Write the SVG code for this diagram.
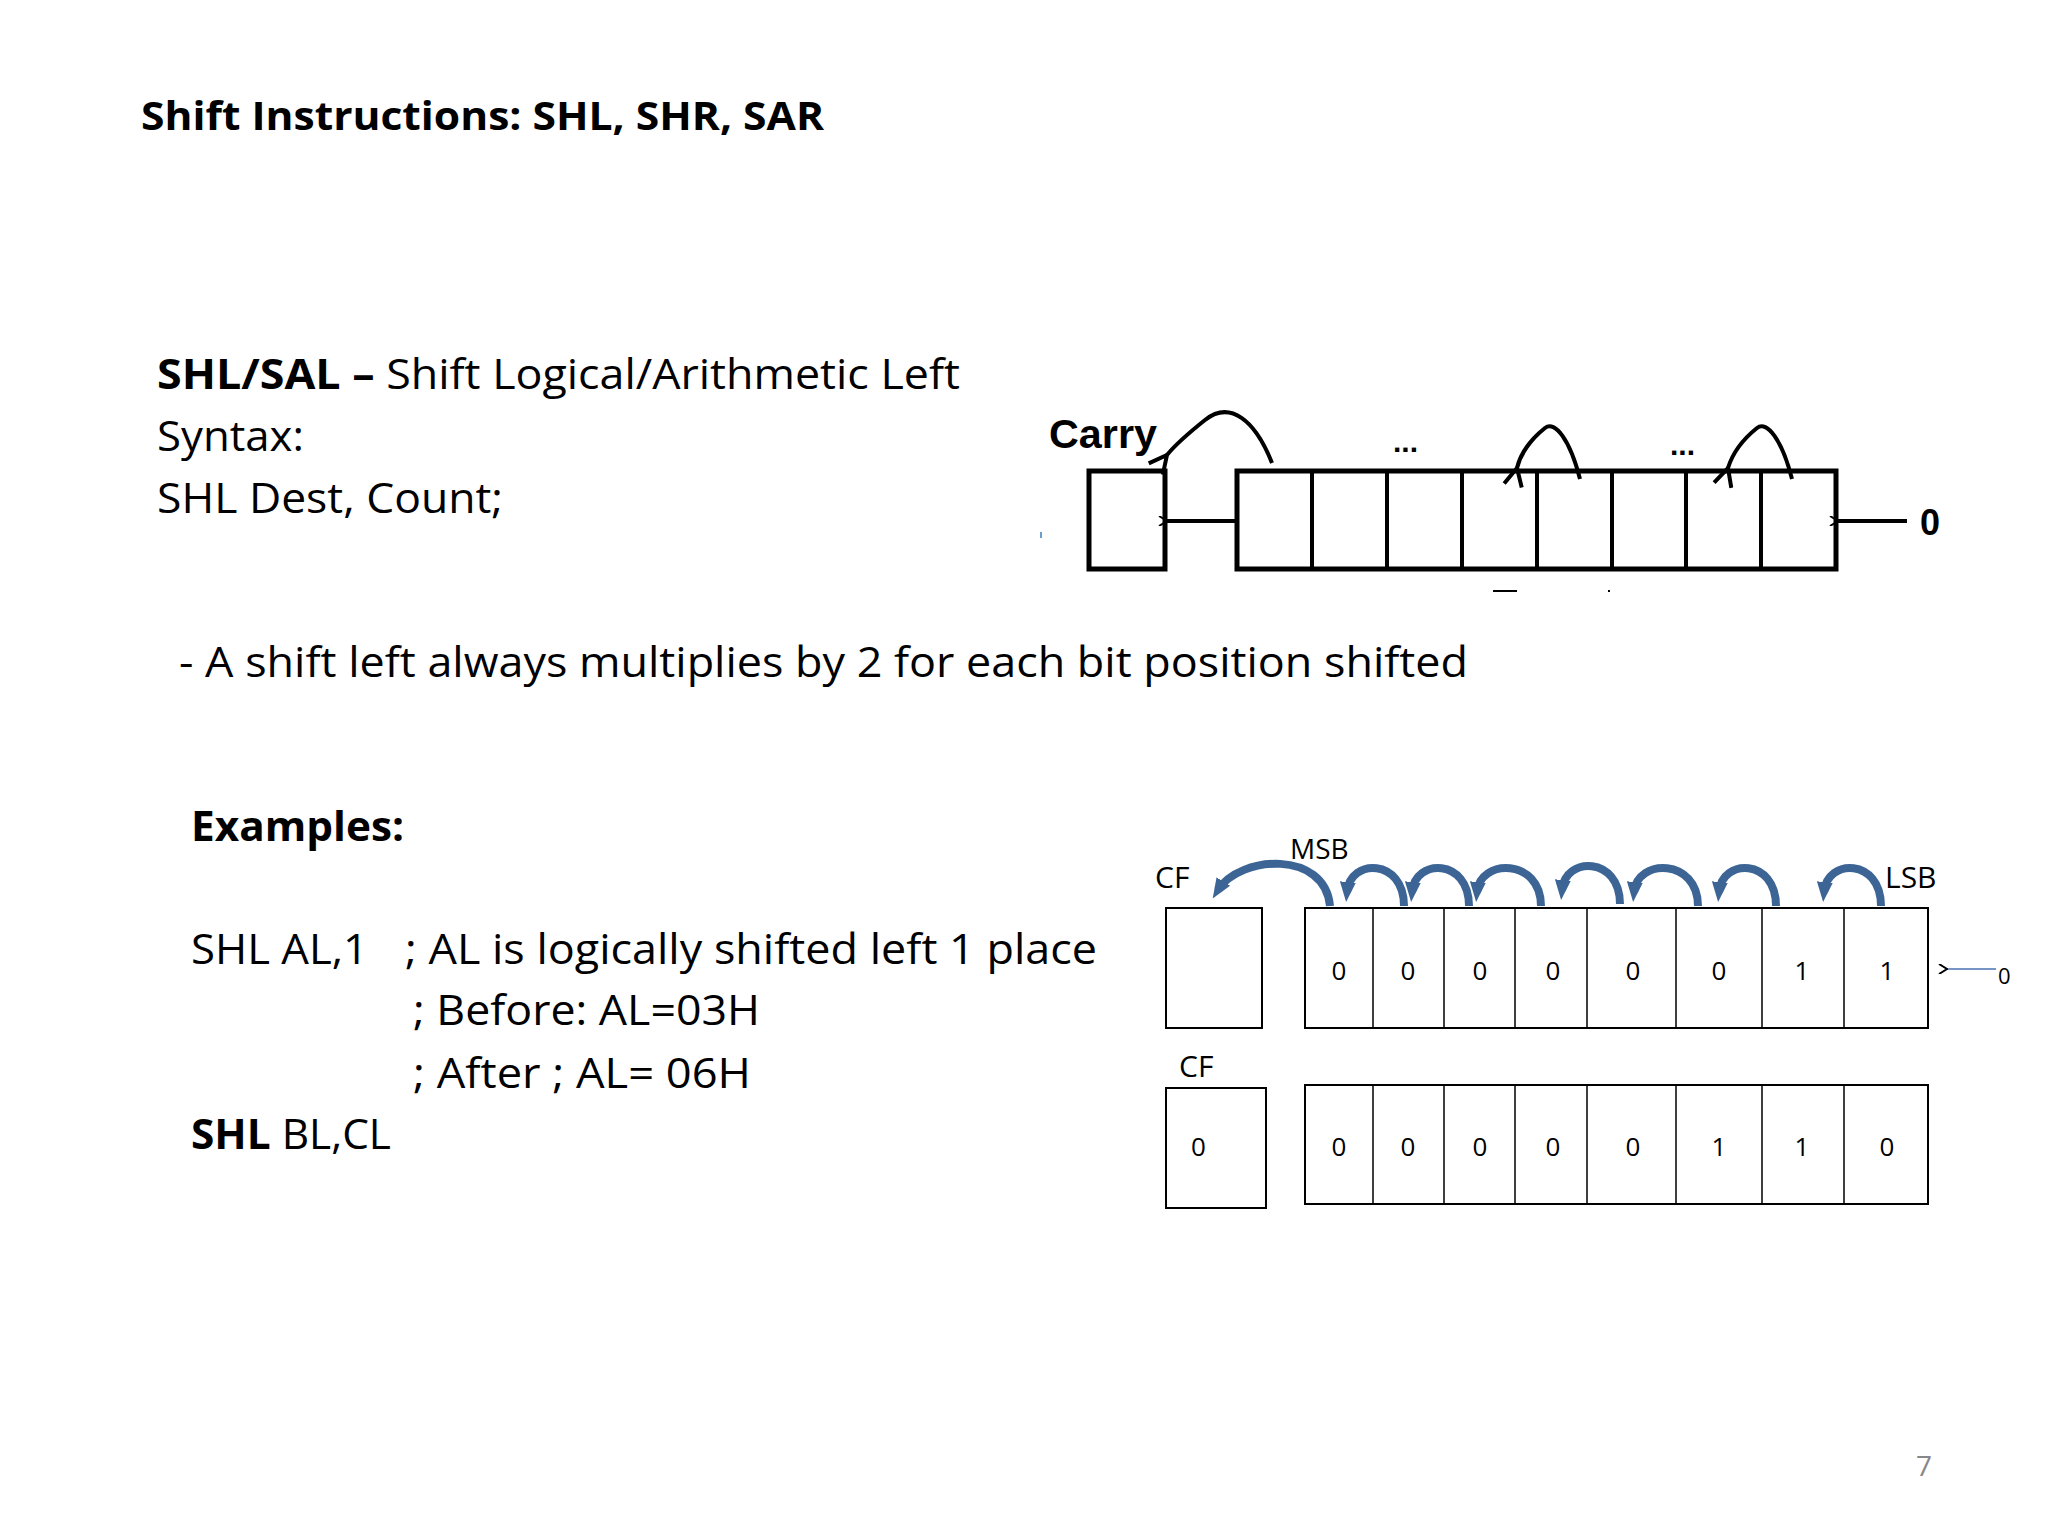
<svg xmlns="http://www.w3.org/2000/svg" width="2048" height="1536" viewBox="0 0 2048 1536">
<style>
text{font-family:"Open Sans","Liberation Sans",sans-serif;fill:#000}
.b{font-weight:bold}
.m{font-size:42px}
.thick{fill:#fff;stroke:#000;stroke-width:5}
.thin{fill:#fff;stroke:#000;stroke-width:2}
.blk{fill:none;stroke:#000;stroke-width:4}
.blue{fill:none;stroke:#3c6596;stroke-width:8}
.d{font-size:26px;text-anchor:middle}
.lbl{font-size:30px}
</style>
<defs>
<marker id="oa" markerWidth="10" markerHeight="10" refX="1" refY="5" orient="auto" markerUnits="userSpaceOnUse" viewBox="0 0 10 10"><path d="M9,0 L1,5 L9,10" fill="none" stroke="#000" stroke-width="2"/></marker>
<marker id="ca" markerWidth="22" markerHeight="22" refX="2" refY="11" orient="auto-start-reverse" markerUnits="userSpaceOnUse" viewBox="0 0 22 22"><path d="M20,2 L2,11 L20,20" fill="none" stroke="#000" stroke-width="4"/></marker>
<marker id="ba" markerWidth="20" markerHeight="20" refX="10" refY="10" orient="auto" markerUnits="userSpaceOnUse" viewBox="0 0 20 20"><path d="M0,2 L20,10 L0,18 Z" fill="#3c6596"/></marker>
</defs>
<rect width="2048" height="1536" fill="#fff"/>
<g id="text">
<text x="141" y="130" class="b" font-size="40" textLength="683" lengthAdjust="spacingAndGlyphs">Shift Instructions: SHL, SHR, SAR</text>
<text x="157" y="389" class="m" textLength="803" lengthAdjust="spacingAndGlyphs"><tspan class="b">SHL/SAL –</tspan> Shift Logical/Arithmetic Left</text>
<text x="157" y="451" class="m" textLength="147" lengthAdjust="spacingAndGlyphs">Syntax:</text>
<text x="157" y="513" class="m" textLength="346" lengthAdjust="spacingAndGlyphs">SHL Dest, Count;</text>
<text x="179" y="677" class="m" textLength="1289" lengthAdjust="spacingAndGlyphs">- A shift left always multiplies by 2 for each bit position shifted</text>
<text x="191" y="841" class="m b" textLength="213" lengthAdjust="spacingAndGlyphs">Examples:</text>
<text x="191" y="964" class="m" textLength="177" lengthAdjust="spacingAndGlyphs">SHL AL,1</text>
<text x="405" y="964" class="m" textLength="692" lengthAdjust="spacingAndGlyphs">; AL is logically shifted left 1 place</text>
<text x="413" y="1025" class="m" textLength="347" lengthAdjust="spacingAndGlyphs">; Before: AL=03H</text>
<text x="413" y="1088" class="m" textLength="338" lengthAdjust="spacingAndGlyphs">; After ; AL= 06H</text>
<text x="191" y="1149" class="m" textLength="200" lengthAdjust="spacingAndGlyphs"><tspan class="b">SHL</tspan> BL,CL</text>
<text x="1916" y="1476" font-size="28" style="fill:#888">7</text>
</g>
<g id="top-diagram">
<text x="1049" y="448" font-size="40" class="b" style="font-family:'Liberation Sans',sans-serif" textLength="108" lengthAdjust="spacingAndGlyphs">Carry</text>
<rect x="1089" y="471" width="76" height="98" class="thick"/>
<rect x="1237" y="471" width="599" height="98" class="thick"/>
<path d="M1312,471V569M1387,471V569M1462,471V569M1537,471V569M1612,471V569M1686,471V569M1761,471V569" stroke="#000" stroke-width="4"/>
<text x="1393" y="452" font-size="30" class="b" style="font-family:'Liberation Sans',sans-serif">...</text>
<text x="1670" y="455" font-size="30" class="b" style="font-family:'Liberation Sans',sans-serif">...</text>
<text x="1920" y="535" font-size="36" class="b" style="font-family:'Liberation Sans',sans-serif">0</text>
<path d="M1493,591H1517M1609,590V592" stroke="#000" stroke-width="2"/>
<path d="M1041,532V538" stroke="#6aa0d0" stroke-width="2"/>
</g>
<g id="bottom-diagram">
<text x="1290" y="859" font-size="28">MSB</text>
<text x="1155" y="888" class="lbl">CF</text>
<text x="1885" y="888" class="lbl">LSB</text>
<rect x="1166" y="908" width="96" height="120" class="thin"/>
<rect x="1305" y="908" width="623" height="120" class="thin"/>
<path d="M1373,908V1028M1444,908V1028M1515,908V1028M1587,908V1028M1676,908V1028M1762,908V1028M1844,908V1028" stroke="#000" stroke-width="1.5"/>
<g class="d">
<text x="1339" y="980">0</text><text x="1408" y="980">0</text><text x="1480" y="980">0</text><text x="1553" y="980">0</text><text x="1633" y="980">0</text><text x="1719" y="980">0</text><text x="1802" y="980">1</text><text x="1887" y="980">1</text>
</g>
<text x="1998" y="984" font-size="22">0</text>
<text x="1179" y="1077" class="lbl">CF</text>
<rect x="1166" y="1088" width="100" height="120" class="thin"/>
<text x="1191" y="1156" font-size="26">0</text>
<rect x="1305" y="1085" width="623" height="119" class="thin"/>
<path d="M1373,1085V1204M1444,1085V1204M1515,1085V1204M1587,1085V1204M1676,1085V1204M1762,1085V1204M1844,1085V1204" stroke="#000" stroke-width="1.5"/>
<g class="d">
<text x="1339" y="1156">0</text><text x="1408" y="1156">0</text><text x="1480" y="1156">0</text><text x="1553" y="1156">0</text><text x="1633" y="1156">0</text><text x="1719" y="1156">1</text><text x="1802" y="1156">1</text><text x="1887" y="1156">0</text>
</g>
</g>
<g id="connectors">
<path d="M1237,521H1167" class="blk" marker-end="url(#oa)"/>
<path d="M1907,521H1838" class="blk" marker-end="url(#oa)"/>
<path d="M1272,463 C1255,420 1230,400 1205,420 C1190,432 1175,445 1167,455" class="blk" marker-end="url(#ca)"/>
<path d="M1580,479 C1570,440 1555,420 1545,428 C1530,440 1520,455 1517,468" class="blk" marker-end="url(#ca)"/>
<path d="M1792,479 C1782,440 1767,420 1757,428 C1742,440 1732,455 1728,468" class="blk" marker-end="url(#ca)"/>
<path d="M1996,969H1947" fill="none" stroke="#4a72b0" stroke-width="1.5" marker-end="url(#oa)"/>
<g class="blue">
<path d="M1330,906 C1325,850 1240,855 1218,890" marker-end="url(#ba)"/>
<path d="M1404,906 C1404,858 1350,858 1347,892" marker-end="url(#ba)"/>
<path d="M1469,906 C1469,858 1415,858 1412,892" marker-end="url(#ba)"/>
<path d="M1541,906 C1541,858 1480,858 1477,892" marker-end="url(#ba)"/>
<path d="M1620,904 C1620,856 1565,856 1562,890" marker-end="url(#ba)"/>
<path d="M1698,906 C1698,858 1637,858 1634,892" marker-end="url(#ba)"/>
<path d="M1776,906 C1776,858 1722,858 1719,892" marker-end="url(#ba)"/>
<path d="M1881,906 C1881,858 1827,858 1824,892" marker-end="url(#ba)"/>
</g>
</g>
</svg>
